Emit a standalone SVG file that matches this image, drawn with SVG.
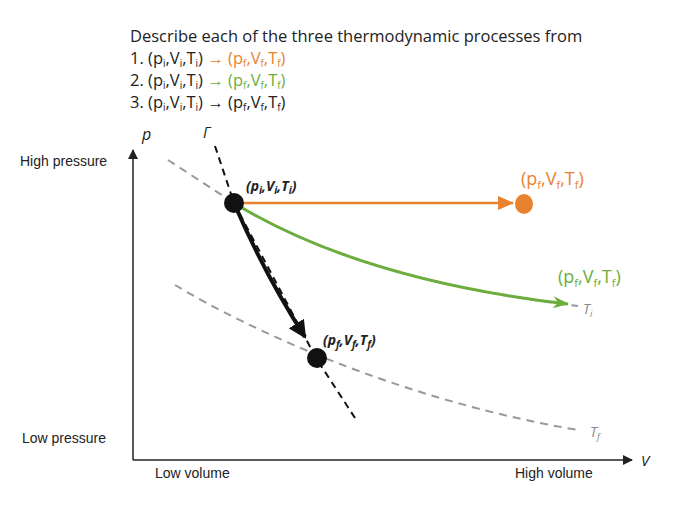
<svg xmlns="http://www.w3.org/2000/svg" width="700" height="516" viewBox="0 0 700 516">
<style>
text{font-family:"Open Sans","Liberation Sans",sans-serif;}
.t{font-size:16.5px;fill:#222}
.ax{font-family:"Liberation Sans",Arial,sans-serif;font-size:14px;fill:#222}
.iso{fill:none;stroke:#999;stroke-width:2;stroke-dasharray:8,6}
.pl{font-size:14px;font-weight:bold;font-style:italic;fill:#222}
.gl{font-size:14px;font-style:italic;fill:#888}
</style>
<defs>
<marker id="ak" markerWidth="10" markerHeight="10" refX="9" refY="5" orient="auto" markerUnits="userSpaceOnUse"><path d="M0,0L10,5L0,10z" fill="#222"/></marker>
<marker id="ao" markerWidth="16" markerHeight="14" refX="15" refY="7" orient="auto" markerUnits="userSpaceOnUse"><path d="M0,0L16,7L0,14z" fill="#E8822F"/></marker>
<marker id="ag" markerWidth="16" markerHeight="12" refX="15" refY="6" orient="auto" markerUnits="userSpaceOnUse"><path d="M0,0L16,6L0,12L5,6z" fill="#6BAE3E"/></marker>
<marker id="ab" markerWidth="18" markerHeight="18" refX="16" refY="9" orient="auto" markerUnits="userSpaceOnUse"><path d="M0,0L18,9L0,18z" fill="#111"/></marker>
</defs>
<g id="title">
<text class="t" x="130" y="42">Describe each of the three thermodynamic processes from</text>
<text class="t" x="130" y="64">1.  (p<tspan font-size="10" dy="3">i</tspan><tspan dy="-3">,V</tspan><tspan font-size="10" dy="3">i</tspan><tspan dy="-3">,T</tspan><tspan font-size="10" dy="3">i</tspan><tspan dy="-3">) </tspan><tspan fill="#E8822F">→ (p<tspan font-size="10" dy="3">f</tspan><tspan dy="-3">,V</tspan><tspan font-size="10" dy="3">f</tspan><tspan dy="-3">,T</tspan><tspan font-size="10" dy="3">f</tspan><tspan dy="-3">)</tspan></tspan></text>
<text class="t" x="130" y="86">2.  (p<tspan font-size="10" dy="3">i</tspan><tspan dy="-3">,V</tspan><tspan font-size="10" dy="3">i</tspan><tspan dy="-3">,T</tspan><tspan font-size="10" dy="3">i</tspan><tspan dy="-3">) </tspan><tspan fill="#6BAE3E">→ (p<tspan font-size="10" dy="3">f</tspan><tspan dy="-3">,V</tspan><tspan font-size="10" dy="3">f</tspan><tspan dy="-3">,T</tspan><tspan font-size="10" dy="3">f</tspan><tspan dy="-3">)</tspan></tspan></text>
<text class="t" x="130" y="108">3.  (p<tspan font-size="10" dy="3">i</tspan><tspan dy="-3">,V</tspan><tspan font-size="10" dy="3">i</tspan><tspan dy="-3">,T</tspan><tspan font-size="10" dy="3">i</tspan><tspan dy="-3">) → (p</tspan><tspan font-size="10" dy="3">f</tspan><tspan dy="-3">,V</tspan><tspan font-size="10" dy="3">f</tspan><tspan dy="-3">,T</tspan><tspan font-size="10" dy="3">f</tspan><tspan dy="-3">)</tspan></text>
</g>
<g id="axes">
<line x1="133" y1="460" x2="133" y2="150" stroke="#222" stroke-width="1.5" marker-end="url(#ak)"/>
<line x1="133" y1="460" x2="632" y2="460" stroke="#222" stroke-width="1.5" marker-end="url(#ak)"/>
<text x="142" y="140" font-size="16" font-style="italic" fill="#222">p</text>
<text x="641" y="466" font-size="15" font-style="italic" fill="#222">V</text>
<text class="ax" x="20" y="166">High pressure</text>
<text class="ax" x="22" y="443">Low pressure</text>
<text class="ax" x="155" y="478">Low volume</text>
<text class="ax" x="515" y="478">High volume</text>
</g>
<g id="connectors">
<path class="iso" d="M168,160 L234,203 Q360,280 578,306"/>
<path class="iso" d="M175,285 C250,330 400,400 578,430"/>
<path d="M215,146 L234,203 L316,358 L355,418" fill="none" stroke="#111" stroke-width="2" stroke-dasharray="7,5"/>
<line x1="234" y1="203" x2="513" y2="203" stroke="#E8822F" stroke-width="2.5" marker-end="url(#ao)"/>
<path d="M234,203 Q360,280 568,304" fill="none" stroke="#6BAE3E" stroke-width="3" marker-end="url(#ag)"/>
<path d="M234,203 Q265,275 305,337" fill="none" stroke="#111" stroke-width="4" marker-end="url(#ab)"/>
</g>
<g id="pi"><circle cx="234" cy="203" r="10" fill="#111"/>
<text class="pl" x="246" y="191">(p<tspan font-size="10" dy="3">i</tspan><tspan dy="-3">,V</tspan><tspan font-size="10" dy="3">i</tspan><tspan dy="-3">,T</tspan><tspan font-size="10" dy="3">i</tspan><tspan dy="-3">)</tspan></text></g>
<g id="pf-orange"><ellipse cx="524" cy="204" rx="9" ry="10" fill="#E8822F"/>
<text x="521" y="185" font-size="18" fill="#E8822F">(p<tspan font-size="11" dy="4">f</tspan><tspan dy="-4">,V</tspan><tspan font-size="11" dy="4">f</tspan><tspan dy="-4">,T</tspan><tspan font-size="11" dy="4">f</tspan><tspan dy="-4">)</tspan></text></g>
<g id="pf-green">
<text x="558" y="283" font-size="18" fill="#6BAE3E">(p<tspan font-size="11" dy="4">f</tspan><tspan dy="-4">,V</tspan><tspan font-size="11" dy="4">f</tspan><tspan dy="-4">,T</tspan><tspan font-size="11" dy="4">f</tspan><tspan dy="-4">)</tspan></text></g>
<g id="pf-black"><circle cx="317" cy="358" r="10" fill="#111"/>
<text class="pl" x="323" y="345">(p<tspan font-size="10" dy="3">f</tspan><tspan dy="-3">,V</tspan><tspan font-size="10" dy="3">f</tspan><tspan dy="-3">,T</tspan><tspan font-size="10" dy="3">f</tspan><tspan dy="-3">)</tspan></text></g>
<g id="labels">
<text x="203" y="138" font-size="15" font-style="italic" fill="#222">Γ</text>
<text class="gl" x="583" y="314">T<tspan font-size="9" dy="3">i</tspan></text>
<text class="gl" x="590" y="437">T<tspan font-size="9" dy="3">f</tspan></text>
</g>
</svg>
